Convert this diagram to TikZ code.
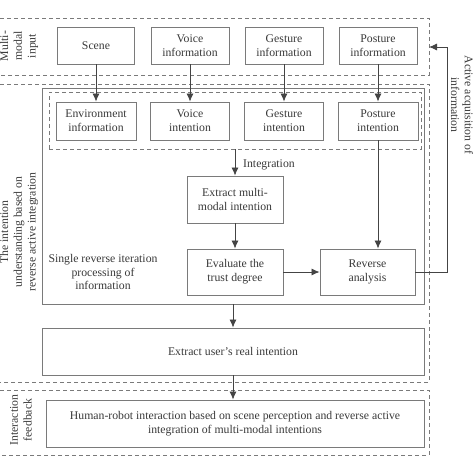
\documentclass[tikz,border=0pt]{standalone}
\usepackage{fontspec}
\setmainfont{Liberation Serif}
\usetikzlibrary{arrows.meta}
\definecolor{boxc}{HTML}{7A7A7A}
\definecolor{txtc}{HTML}{3A3A3A}
\definecolor{linec}{HTML}{444444}
\tikzset{
  box/.style={draw=boxc, line width=0.9pt, fill=white, inner sep=0pt, align=center, text=txtc},
  grp/.style={draw=boxc, line width=0.8pt, dash pattern=on 4pt off 3pt},
  arr/.style={draw=linec, line width=0.8pt, -{Latex[length=8pt,width=7pt]}},
  lbl/.style={text=txtc, align=center, inner sep=0pt},
}
\begin{document}
\begin{tikzpicture}[x=1pt, y=-1pt, font=\fontsize{11.75}{13.8}\selectfont]
\useasboundingbox (0,0) rectangle (474,474);
% groups
\draw[grp] (0,18) -- (429,18) -- (429,75) -- (0,75);
\draw[grp] (0,84) -- (429,84) -- (429,382) -- (0,382);
\draw[grp] (0,390) -- (429,390) -- (429,455) -- (0,455);
\coordinate (inR) at (429,47);
% big processing box
\node[box, minimum width=382pt, minimum height=216pt] (proc) at (233,196) {};
\node[grp, inner sep=0pt, minimum width=372pt, minimum height=57pt] (intbox) at (235,120.5) {};
% top row
\node[box, minimum width=77pt, minimum height=37pt] (scene) at (96,45.5) {Scene};
\node[box, minimum width=78pt, minimum height=37pt] (voice) at (190,45.5) {Voice\\information};
\node[box, minimum width=78pt, minimum height=37pt] (gest) at (284,45.5) {Gesture\\information};
\node[box, minimum width=78pt, minimum height=37pt] (post) at (378,45.5) {Posture\\information};
% intention row
\node[box, minimum width=80pt, minimum height=38pt] (env) at (96,121) {Environment\\information};
\node[box, minimum width=79pt, minimum height=38pt] (voiceI) at (190,121) {Voice\\intention};
\node[box, minimum width=79pt, minimum height=38pt] (gestI) at (284,121) {Gesture\\intention};
\node[box, minimum width=80pt, minimum height=38pt] (postI) at (378,121) {Posture\\intention};
% processing
\node[box, minimum width=96pt, minimum height=47pt] (extract) at (235,199.5) {Extract multi-\\modal intention};
\node[box, minimum width=96pt, minimum height=46pt] (eval) at (235,272) {Evaluate the\\trust degree};
\node[box, minimum width=95pt, minimum height=46pt] (rev) at (367.5,272) {Reverse\\analysis};
\node[lbl] (single) at (103,272) {Single reverse iteration\\processing of\\information};
\node[lbl, anchor=west] (integ) at (243,165) {Integration};
% lower boxes
\node[box, minimum width=382pt, minimum height=47pt] (user) at (233,351.5) {Extract user's real intention};
\node[box, minimum width=378pt, minimum height=47pt] (hri) at (235,423.5) {Human-robot interaction based on scene perception and reverse active\\integration of multi-modal intentions};
% side labels
\node[lbl, rotate=90] (lmm) at (19,46) {Multi-\\modal\\input};
\node[lbl, rotate=90] (lint) at (19,232) {The intention\\understanding based on\\reverse active integration};
\node[lbl, rotate=90] (lfb) at (21,420) {Interaction\\feedback};
\node[lbl, rotate=-90] (lact) at (462,105) {Active acquisition of\\information};
% arrows
\draw[arr] (scene.south) -- (env.north);
\draw[arr] (voice.south) -- (voiceI.north);
\draw[arr] (gest.south) -- (gestI.north);
\draw[arr] (post.south) -- (postI.north);
\draw[arr] (intbox.south) -- (extract.north);
\draw[arr] (extract.south) -- (eval.north);
\draw[arr] (eval.east) -- (rev.west);
\draw[arr] (postI.south) -- (postI.south |- rev.north);
\draw[arr] (rev.east) -- ++(32,0) |- (inR);
\draw[arr] (proc.south) -- (user.north);
\draw[arr] (user.south) -- (user.south |- hri.north);
\end{tikzpicture}
\end{document}
